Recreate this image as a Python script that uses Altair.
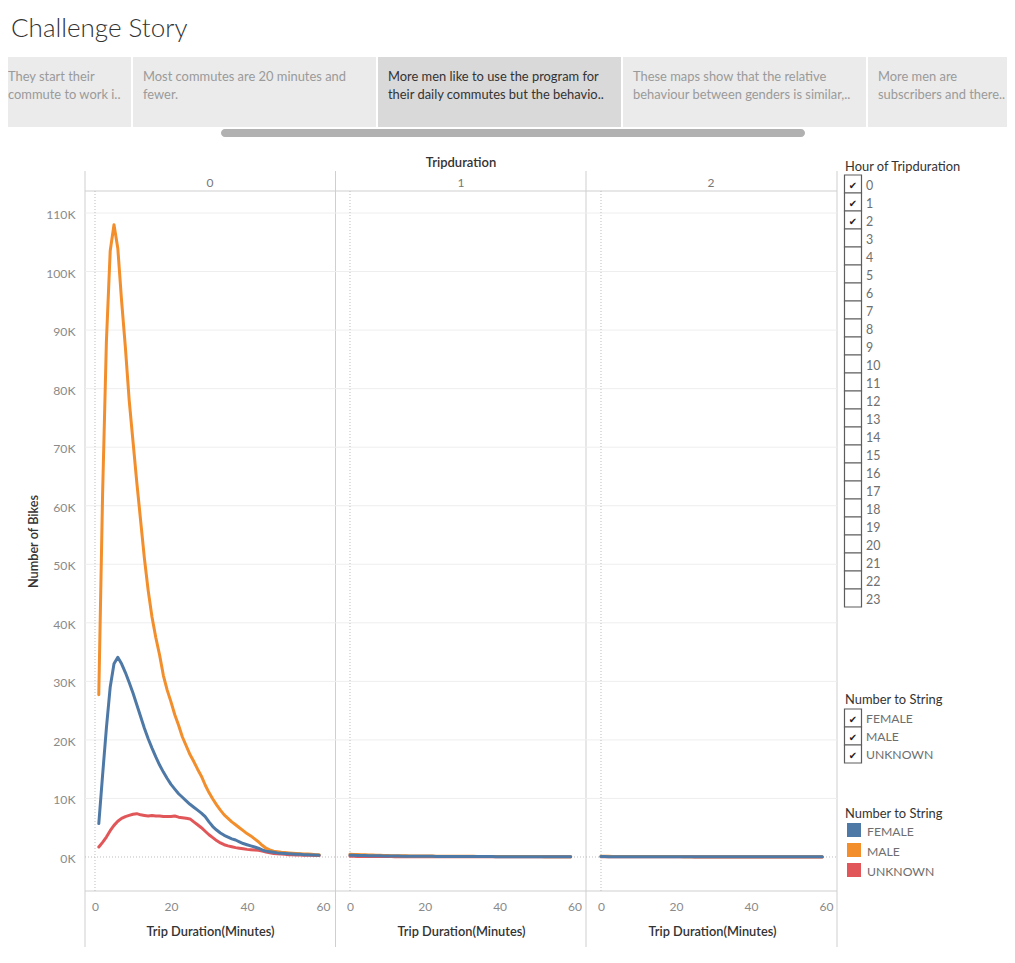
import altair as alt
import pandas as pd

W, H = 999, 945

# ---------------- text content ----------------
story_title = "Challenge Story"
tab_lines = [
    ["They start their", "commute to work i.."],
    ["Most commutes are 20 minutes and", "fewer."],
    ["More men like to use the program for", "their daily commutes but the behavio.."],
    ["These maps show that the relative", "behaviour between genders is similar,.."],
    ["More men are", "subscribers and there.."],
]
selected_tab = 2
facet_title = "Tripduration"
panel_hours = [0, 1, 2]
hour_filter_values = [str(h) for h in range(24)]
hours_checked = ["0", "1", "2"]
genders = ["FEMALE", "MALE", "UNKNOWN"]
gender_colors = ["#4e79a7", "#f28e2b", "#e15759"]
x_ticks = [0, 20, 40, 60]
y_ticks = [0, 10, 20, 30, 40, 50, 60, 70, 80, 90, 100, 110]
grid_vals = [10, 20, 30, 40, 50, 60, 70, 80, 90, 100, 110]

# ---------------- data (thousands of bikes) ----------------
minutes_h0 = list(range(1, 60))
female_h0 = [5.7, 14, 22, 29, 33, 34.1, 33, 31.5, 29.8, 28,
             26, 24, 22, 20.2, 18.6, 17.1, 15.7, 14.5, 13.4, 12.4,
             11.6, 10.8, 10.2, 9.6, 9.0, 8.5, 8.0, 7.5, 6.9, 6.0,
             5.2, 4.6, 4.1, 3.7, 3.4, 3.1, 2.9, 2.6, 2.3, 2.1,
             1.9, 1.7, 1.5, 1.2, 1.0, 0.9, 0.8, 0.7, 0.65, 0.6,
             0.55, 0.5, 0.45, 0.45, 0.4, 0.4, 0.35, 0.35, 0.3]
male_h0 = [27.7, 62, 88, 103.5, 108, 104, 95, 87, 78, 71,
           64, 57.5, 51, 45.5, 41, 37.5, 34.5, 31, 28.5, 26.5,
           24.3, 22.5, 20.5, 19, 17.5, 16.3, 15, 13.8, 12.3, 11.0,
           9.9, 8.9, 8.0, 7.2, 6.6, 6.0, 5.5, 5.0, 4.5, 4.0,
           3.6, 3.1, 2.6, 2.0, 1.5, 1.2, 1.0, 0.9, 0.8, 0.75,
           0.7, 0.65, 0.6, 0.55, 0.5, 0.5, 0.45, 0.4, 0.4]
unknown_h0 = [1.7, 2.5, 3.4, 4.5, 5.4, 6.1, 6.6, 6.9, 7.1, 7.3,
              7.4, 7.2, 7.1, 7.0, 7.1, 7.0, 7.0, 6.9, 6.9, 6.9,
              7.0, 6.8, 6.7, 6.6, 6.5, 6.0, 5.5, 5.0, 4.4, 3.8,
              3.3, 2.8, 2.4, 2.1, 1.9, 1.75, 1.6, 1.5, 1.4, 1.3,
              1.25, 1.2, 1.15, 1.0, 0.85, 0.7, 0.6, 0.55, 0.5, 0.45,
              0.4, 0.4, 0.35, 0.35, 0.3, 0.3, 0.3, 0.25, 0.25]

minutes_h12 = list(range(0, 60))
female_h1 = [0.30, 0.28, 0.26, 0.25, 0.24, 0.22, 0.21, 0.20, 0.19, 0.18,
             0.17, 0.16, 0.15, 0.15, 0.14, 0.14, 0.13, 0.13, 0.12, 0.12,
             0.11, 0.11, 0.11, 0.10, 0.10, 0.10, 0.09, 0.09, 0.09, 0.09,
             0.08, 0.08, 0.08, 0.08, 0.07, 0.07, 0.07, 0.07, 0.07, 0.06,
             0.06, 0.06, 0.06, 0.06, 0.05, 0.05, 0.05, 0.05, 0.05, 0.05,
             0.04, 0.04, 0.04, 0.04, 0.04, 0.04, 0.04, 0.03, 0.03, 0.03]
male_h1 = [0.45, 0.43, 0.41, 0.39, 0.37, 0.35, 0.33, 0.31, 0.29, 0.27,
           0.25, 0.23, 0.22, 0.21, 0.20, 0.19, 0.18, 0.17, 0.17, 0.16,
           0.16, 0.15, 0.15, 0.14, 0.14, 0.13, 0.13, 0.13, 0.12, 0.12,
           0.12, 0.11, 0.11, 0.11, 0.10, 0.10, 0.10, 0.10, 0.09, 0.09,
           0.09, 0.09, 0.08, 0.08, 0.08, 0.08, 0.08, 0.07, 0.07, 0.07,
           0.07, 0.07, 0.06, 0.06, 0.06, 0.06, 0.06, 0.05, 0.05, 0.05]
unknown_h1 = [0.12, 0.11, 0.10, 0.10, 0.09, 0.09, 0.08, 0.08, 0.08, 0.07,
              0.07, 0.07, 0.06, 0.06, 0.06, 0.06, 0.05, 0.05, 0.05, 0.05,
              0.05, 0.04, 0.04, 0.04, 0.04, 0.04, 0.04, 0.04, 0.03, 0.03,
              0.03, 0.03, 0.03, 0.03, 0.03, 0.03, 0.03, 0.02, 0.02, 0.02,
              0.02, 0.02, 0.02, 0.02, 0.02, 0.02, 0.02, 0.02, 0.02, 0.02,
              0.02, 0.02, 0.02, 0.02, 0.02, 0.02, 0.02, 0.02, 0.02, 0.02]
female_h2 = [0.07, 0.07, 0.06, 0.06, 0.06, 0.06, 0.06, 0.05, 0.05, 0.05,
             0.05, 0.05, 0.05, 0.05, 0.04, 0.04, 0.04, 0.04, 0.04, 0.04,
             0.04, 0.04, 0.04, 0.04, 0.04, 0.04, 0.03, 0.03, 0.03, 0.03,
             0.03, 0.03, 0.03, 0.03, 0.03, 0.03, 0.03, 0.03, 0.03, 0.03,
             0.03, 0.03, 0.03, 0.03, 0.03, 0.03, 0.03, 0.03, 0.03, 0.03,
             0.03, 0.03, 0.03, 0.03, 0.03, 0.03, 0.03, 0.03, 0.03, 0.03]
male_h2 = [0.12, 0.11, 0.11, 0.10, 0.10, 0.10, 0.09, 0.09, 0.09, 0.09,
           0.08, 0.08, 0.08, 0.08, 0.08, 0.07, 0.07, 0.07, 0.07, 0.07,
           0.07, 0.07, 0.06, 0.06, 0.06, 0.06, 0.06, 0.06, 0.06, 0.06,
           0.05, 0.05, 0.05, 0.05, 0.05, 0.05, 0.05, 0.05, 0.05, 0.05,
           0.05, 0.05, 0.05, 0.04, 0.04, 0.04, 0.04, 0.04, 0.04, 0.04,
           0.04, 0.04, 0.04, 0.04, 0.04, 0.04, 0.04, 0.04, 0.04, 0.04]
unknown_h2 = [0.03, 0.03, 0.03, 0.03, 0.03, 0.02, 0.02, 0.02, 0.02, 0.02,
              0.02, 0.02, 0.02, 0.02, 0.02, 0.02, 0.02, 0.02, 0.02, 0.02,
              0.02, 0.02, 0.02, 0.02, 0.02, 0.01, 0.01, 0.01, 0.01, 0.01,
              0.01, 0.01, 0.01, 0.01, 0.01, 0.01, 0.01, 0.01, 0.01, 0.01,
              0.01, 0.01, 0.01, 0.01, 0.01, 0.01, 0.01, 0.01, 0.01, 0.01,
              0.01, 0.01, 0.01, 0.01, 0.01, 0.01, 0.01, 0.01, 0.01, 0.01]

series = {
    0: (minutes_h0, {"UNKNOWN": unknown_h0, "MALE": male_h0, "FEMALE": female_h0}),
    1: (minutes_h12, {"UNKNOWN": unknown_h1, "MALE": male_h1, "FEMALE": female_h1}),
    2: (minutes_h12, {"UNKNOWN": unknown_h2, "MALE": male_h2, "FEMALE": female_h2}),
}
rows = []
for hr, (mins, by_g) in series.items():
    for g in ["UNKNOWN", "MALE", "FEMALE"]:
        vals = by_g[g]
        for m, v in zip(mins, vals):
            rows.append({"hour": hr, "minute": m, "gender": g, "bikes": v})
lines_df = pd.DataFrame(rows)

# ---------------- layout (page pixel coordinates) ----------------
tab_left = [8, 133, 378, 623, 868]
tab_right = [131, 376, 621, 866, 1007]
tab_text_x = [8, 143, 388, 633, 878]
tab_top, tab_bottom = 57, 127
tab_line_y = [75.5, 93.5]
scroll_box = (221, 805, 129, 137)

panel_edges_px = [85, 335.5, 586, 837]
panel_centers_px = [210, 461, 711]
plot_top, plot_bottom = 191, 891
header_top, frame_bottom = 171, 947

# scale ranges inside the chart (page - 8)
x_domains = [[-2.63, 63.16], [-3.74, 63.1], [-3.73, 62.93]]
x_ranges = [[77, 327], [328, 578], [579, 829]]
y_domain = [-5.81, 113.76]
y_range = [883, 183]

px = alt.Scale(domain=[8, 8 + W], range=[0, W], zero=False, nice=False)
py = alt.Scale(domain=[8, 8 + H], range=[0, H], zero=False, nice=False)
ys = alt.Scale(domain=y_domain, range=y_range, zero=False, nice=False)
cscale = alt.Scale(domain=genders, range=gender_colors)

FONT = "Lato"


def X(f="x"):
    return alt.X(f + ":Q", scale=px, axis=None)


def Y(f="y"):
    return alt.Y(f + ":Q", scale=py, axis=None)


def text_layer(df, **kw):
    base = dict(baseline="middle", font=FONT, dy=1.5)
    base.update(kw)
    return alt.Chart(df).mark_text(**base).encode(
        x=X(), y=Y(), text="t:N", color=alt.Color("c:N", scale=None)
    )


layers = []

# --- story navigator ---
tabs_df = pd.DataFrame({
    "x": tab_left, "x2": tab_right,
    "y": [tab_top] * 5, "y2": [tab_bottom] * 5,
    "c": ["#d9d9d9" if i == selected_tab else "#ebebeb" for i in range(5)],
})
layers.append(alt.Chart(tabs_df).mark_rect().encode(
    x=X(), x2="x2:Q", y=Y(), y2="y2:Q", color=alt.Color("c:N", scale=None)))
scroll_df = pd.DataFrame({"x": [scroll_box[0]], "x2": [scroll_box[1]],
                          "y": [scroll_box[2]], "y2": [scroll_box[3]]})
layers.append(alt.Chart(scroll_df).mark_rect(cornerRadius=4, color="#b1b1b1").encode(
    x=X(), x2="x2:Q", y=Y(), y2="y2:Q"))
layers.append(text_layer(pd.DataFrame({"x": [11], "y": [27], "t": [story_title], "c": ["#333333"]}),
                         align="left", fontSize=26, fontWeight=300))
tab_rows = []
for i, lines in enumerate(tab_lines):
    for j, ln in enumerate(lines):
        tab_rows.append({"x": tab_text_x[i], "y": tab_line_y[j], "t": ln,
                         "c": "#333333" if i == selected_tab else "#9a9a9a"})
layers.append(text_layer(pd.DataFrame(tab_rows), align="left", fontSize=12.9))

# --- pane frames ---
vf = pd.DataFrame({"x": panel_edges_px, "y": [header_top] * 4, "y2": [frame_bottom] * 4})
layers.append(alt.Chart(vf).mark_rule(color="#cfcfcf", strokeWidth=1).encode(x=X(), y=Y(), y2="y2:Q"))
hf = pd.DataFrame({"y": [plot_top, plot_bottom], "x": [panel_edges_px[0]] * 2, "x2": [panel_edges_px[-1]] * 2})
layers.append(alt.Chart(hf).mark_rule(color="#cfcfcf", strokeWidth=1).encode(y=Y(), x=X(), x2="x2:Q"))

# --- gridlines and zero lines ---
layers.append(alt.Chart(pd.DataFrame({"v": grid_vals})).mark_rule(color="#eeeeee", strokeWidth=1).encode(
    y=alt.Y("v:Q", scale=ys, axis=None), x=alt.value(x_ranges[0][0]), x2=alt.value(x_ranges[2][1])))
layers.append(alt.Chart(pd.DataFrame({"v": [0]})).mark_rule(color="#bdbdbd", strokeWidth=1, strokeDash=[1, 2]).encode(
    y=alt.Y("v:Q", scale=ys, axis=None), x=alt.value(x_ranges[0][0]), x2=alt.value(x_ranges[2][1])))
for k in range(3):
    xs = alt.Scale(domain=x_domains[k], range=x_ranges[k], zero=False, nice=False)
    layers.append(alt.Chart(pd.DataFrame({"z": [0]})).mark_rule(color="#bdbdbd", strokeWidth=1, strokeDash=[1, 2]).encode(
        x=alt.X("z:Q", scale=xs, axis=None), y=alt.value(y_range[1]), y2=alt.value(y_range[0])))

# --- facet headers ---
layers.append(text_layer(pd.DataFrame({"x": [461], "y": [161], "t": [facet_title], "c": ["#333333"]}),
                         align="center", fontSize=13, fontWeight=600))
layers.append(text_layer(pd.DataFrame({"x": panel_centers_px, "y": [181] * 3,
                                       "t": [str(h) for h in panel_hours], "c": ["#777777"] * 3}),
                         align="center", fontSize=12))

# --- the lines, one panel per hour ---
for k, hr in enumerate(panel_hours):
    xs = alt.Scale(domain=x_domains[k], range=x_ranges[k], zero=False, nice=False)
    xaxis = alt.Axis(orient="bottom", offset=-(H - y_range[0]), values=x_ticks, grid=False,
                     domain=False, ticks=False, tickSize=0, labelPadding=10, labelFlush=False,
                     labelFontSize=12, labelColor="#8a8a8a", labelFont=FONT,
                     title="Trip Duration(Minutes)", titleFont=FONT, titleFontSize=12.8,
                     titleColor="#333333", titleFontWeight=600, titlePadding=13)
    if k == 0:
        yaxis = alt.Axis(orient="left", offset=-x_ranges[0][0], values=y_ticks,
                         labelExpr="datum.value + 'K'", grid=False, domain=False, ticks=False,
                         tickSize=0, labelPadding=10, labelFlush=False, labelOffset=1.5,
                         labelFontSize=12.2, labelColor="#8a8a8a", labelFont=FONT,
                         title="Number of Bikes", titleFont=FONT, titleFontSize=12.7,
                         titleColor="#333333", titleFontWeight=600, titlePadding=5)
    else:
        yaxis = None
    layers.append(
        alt.Chart(lines_df).transform_filter(alt.datum.hour == hr)
        .mark_line(strokeWidth=3, strokeJoin="round", strokeCap="round")
        .encode(
            x=alt.X("minute:Q", scale=xs, axis=xaxis),
            y=alt.Y("bikes:Q", scale=ys, axis=yaxis),
            color=alt.Color("gender:N", scale=cscale, legend=None),
        )
    )

# --- right-hand filter cards and colour legend ---
box_x0, box_x1 = 844.5, 861.5
hour_row_top = 175
row_h = 18
hb = pd.DataFrame({
    "x": [box_x0] * 24, "x2": [box_x1] * 24,
    "y": [hour_row_top + row_h * i for i in range(24)],
    "y2": [hour_row_top + row_h * (i + 1) for i in range(24)],
})
layers.append(alt.Chart(hb).mark_rect(fill="white", stroke="#5c5c5c", strokeWidth=1.2).encode(
    x=X(), x2="x2:Q", y=Y(), y2="y2:Q"))
layers.append(text_layer(pd.DataFrame({
    "x": [866] * 24, "y": [hour_row_top + 9 + row_h * i for i in range(24)],
    "t": hour_filter_values, "c": ["#6e6e6e"] * 24}), align="left", fontSize=12.4))
hc_rows = [i for i, h in enumerate(hour_filter_values) if h in hours_checked]
layers.append(text_layer(pd.DataFrame({
    "x": [853] * len(hc_rows), "y": [hour_row_top + 9 + row_h * i for i in hc_rows],
    "t": ["✔"] * len(hc_rows), "c": ["#222222"] * len(hc_rows)}),
    align="center", fontSize=10, font="DejaVu Sans"))

g_row_top = 709
gb = pd.DataFrame({
    "x": [box_x0] * 3, "x2": [box_x1] * 3,
    "y": [g_row_top + row_h * i for i in range(3)],
    "y2": [g_row_top + row_h * (i + 1) for i in range(3)],
})
layers.append(alt.Chart(gb).mark_rect(fill="white", stroke="#5c5c5c", strokeWidth=1.2).encode(
    x=X(), x2="x2:Q", y=Y(), y2="y2:Q"))
layers.append(text_layer(pd.DataFrame({
    "x": [853] * 3, "y": [g_row_top + 9 + row_h * i for i in range(3)],
    "t": ["✔"] * 3, "c": ["#222222"] * 3}), align="center", fontSize=10, font="DejaVu Sans"))

leg_centers = [830, 850, 870]
lg = pd.DataFrame({"gender": genders, "x": [847] * 3, "x2": [861] * 3,
                   "y": [c - 7 for c in leg_centers], "y2": [c + 7 for c in leg_centers]})
layers.append(alt.Chart(lg).mark_rect().encode(
    x=X(), x2="x2:Q", y=Y(), y2="y2:Q",
    color=alt.Color("gender:N", scale=cscale, legend=None)))

label_rows = (
    [{"x": 866, "y": g_row_top + 8 + row_h * i, "t": g, "c": "#6e6e6e"} for i, g in enumerate(genders)]
    + [{"x": 867, "y": c, "t": g, "c": "#6e6e6e"} for c, g in zip(leg_centers, genders)]
)
layers.append(text_layer(pd.DataFrame(label_rows), align="left", fontSize=12.2))
layers.append(text_layer(pd.DataFrame({
    "x": [845, 845, 845], "y": [165, 698, 812],
    "t": ["Hour of Tripduration", "Number to String", "Number to String"],
    "c": ["#333333"] * 3}), align="left", fontSize=12.9))

chart = (
    alt.layer(*layers)
    .resolve_scale(x="independent", y="independent")
    .resolve_axis(x="independent", y="independent")
    .properties(width=W, height=H, autosize=alt.AutoSizeParams(type="none"), padding=0,
                view=alt.ViewBackground(stroke="transparent", strokeWidth=0, strokeOpacity=0))
    .configure_view(stroke="transparent", strokeWidth=0, strokeOpacity=0)
    .configure(font=FONT)
)

chart.save("out.html", embed_options={"renderer": "svg", "actions": False})
